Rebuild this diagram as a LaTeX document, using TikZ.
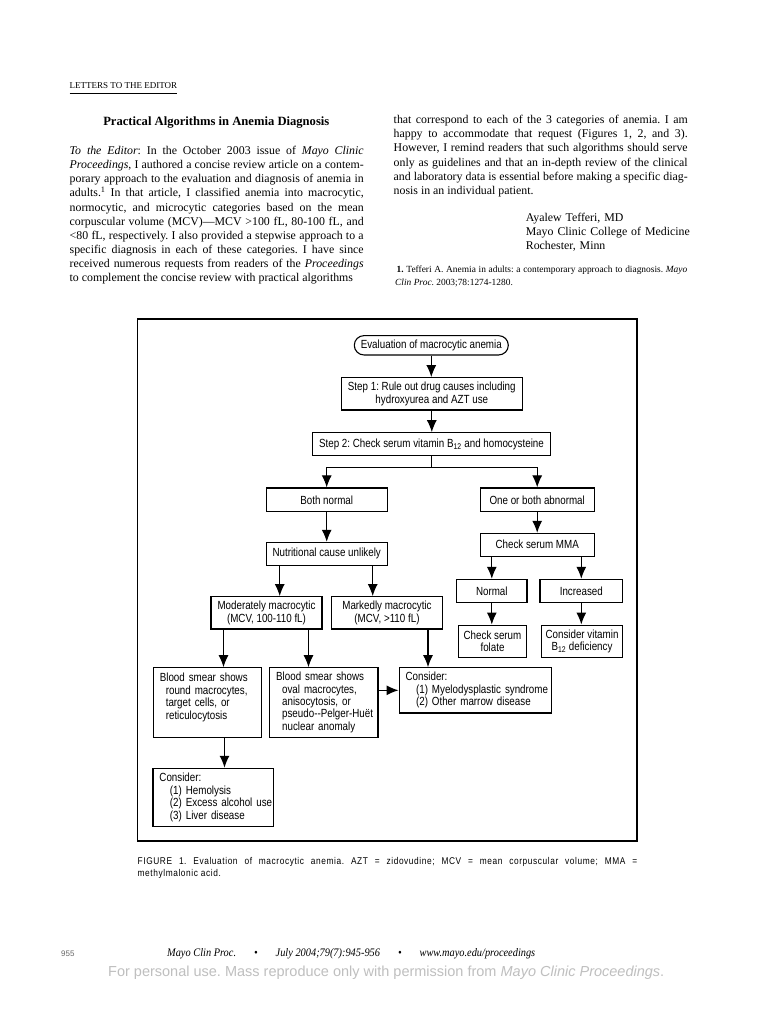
\documentclass[tikz,border=0pt]{standalone}
\usepackage{fontspec}
\setmainfont{Liberation Serif}
\newfontfamily\figfont[FakeStretch=0.83]{Liberation Sans}
\newfontfamily\capfont[FakeStretch=0.85,LetterSpace=6]{Liberation Sans}
\newfontfamily\wmfont{Liberation Sans}
\newfontfamily\jrnfont[FakeStretch=0.9]{Liberation Serif}
\usetikzlibrary{arrows.meta}
\newcommand{\bodysize}{\fontsize{11.85pt}{14.17pt}\selectfont}
\frenchspacing

\begin{document}
\begin{tikzpicture}[x=1pt,y=-1pt,
	box/.style={draw, line width=1.1pt, inner sep=0pt, align=center, font=\figfont\fontsize{11.8pt}{12.4pt}\selectfont},
	lbox/.style={box, align=left, inner xsep=6.5pt},
	arr/.style={line width=1.1pt, -{Latex[length=12pt,width=10pt]}},
	txt/.style={anchor=base west, inner sep=0pt}]

	\fill[white] (0,0) rectangle (768,1024);
	\useasboundingbox (0,0) rectangle (768,1024);

	% header and letter
	\node[txt, font=\fontsize{9pt}{10pt}\selectfont] (head) at (69.5,88.7) {LETTERS TO THE EDITOR};
	\draw[line width=0.9pt] ([yshift=-4.6pt]head.base west) -- ([yshift=-4.6pt]head.base east);
	\node[anchor=base, inner sep=0pt, font=\bfseries\fontsize{12.6pt}{14pt}\selectfont] (title) at (216.3,125.7) {Practical Algorithms in Anemia Diagnosis};

	\node[txt, text width=294pt, align=justify, font=\bodysize] (colL) at (69.5,154.4) {\parfillskip=0pt
	\textit{To the Editor}: In the October 2003 issue of \textit{Mayo Clinic}\linebreak
	\textit{Proceedings}, I authored a concise review article on a contem-\linebreak
	porary approach to the evaluation and diagnosis of anemia in\linebreak
	adults.\textsuperscript{1} In that article, I classified anemia into macrocytic,\linebreak
	normocytic, and microcytic categories based on the mean\linebreak
	corpuscular volume (MCV)---MCV >100 fL, 80-100 fL, and\linebreak
	<80 fL, respectively. I also provided a stepwise approach to a\linebreak
	specific diagnosis in each of these categories. I have since\linebreak
	received numerous requests from readers of the \textit{Proceedings}\linebreak
	to complement the concise review with practical algorithms};

	\node[txt, text width=294pt, align=justify, font=\bodysize] (colR) at (393.5,123.6) {
	that correspond to each of the 3 categories of anemia. I am\linebreak
	happy to accommodate that request (Figures 1, 2, and 3).\linebreak
	However, I remind readers that such algorithms should serve\linebreak
	only as guidelines and that an in-depth review of the clinical\linebreak
	and laboratory data is essential before making a specific diag-\linebreak
	nosis in an individual patient.};

	\node[txt, text width=180pt, align=left, font=\fontsize{11.85pt}{14pt}\selectfont] (sign) at (525.7,221.5) {Ayalew Tefferi, MD\\Mayo Clinic College of Medicine\\Rochester, Minn};

	\node[txt, text width=292pt, align=justify, font=\fontsize{9.4pt}{12.6pt}\selectfont] (note) at (395,272.5) {\hspace*{1.5pt}\textbf{1.}\ Tefferi A. Anemia in adults: a contemporary approach to diagnosis. \textit{Mayo}\linebreak
	\textit{Clin Proc}. 2003;78:1274-1280.};

	% flowchart
	\draw[line width=1.3pt] (137.5,319) rectangle (637,841);

	\node[box, minimum width=154pt, minimum height=19.3pt, rounded corners=9.6pt] (eval) at (431.3,345.3) {Evaluation of macrocytic anemia};
	\node[box, minimum width=181pt, minimum height=32.3pt] (step1) at (431.8,393.8) {Step 1: Rule out drug causes including\\hydroxyurea and AZT use};
	\node[box, minimum width=238.4pt, minimum height=23pt] (step2) at (431.5,444.2) {Step 2: Check serum vitamin B\textsubscript{12} and homocysteine};
	\node[box, minimum width=120.7pt, minimum height=23.7pt] (both) at (326.7,499.8) {Both normal};
	\node[box, minimum width=113.7pt, minimum height=23.7pt] (abn) at (537.2,499.8) {One or both abnormal};
	\node[box, minimum width=120.7pt, minimum height=23pt] (nutr) at (326.7,553.8) {Nutritional cause unlikely};
	\node[box, minimum width=113.7pt, minimum height=22.7pt] (mma) at (537.2,544.7) {Check serum MMA};
	\node[box, minimum width=111pt, minimum height=32.3pt] (moder) at (266.5,612.8) {Moderately macrocytic\\(MCV, 100-110 fL)};
	\node[box, minimum width=110.7pt, minimum height=32.3pt] (marked) at (387,612.8) {Markedly macrocytic\\(MCV, >110 fL)};
	\node[box, minimum width=70.3pt, minimum height=23.4pt] (norm) at (491.8,591) {Normal};
	\node[box, minimum width=82.7pt, minimum height=23.4pt] (incr) at (581.3,591) {Increased};
	\node[box, minimum width=68.4pt, minimum height=32.3pt] (folate) at (492.5,641.2) {Check serum\\folate};
	\node[box, minimum width=80.6pt, minimum height=32.3pt] (vitb) at (582,641.2) {Consider vitamin\\B\textsubscript{12} deficiency};
	\node[lbox, text width=95.4pt, minimum height=69.6pt] (smearA) at (207.5,702.5) {Blood smear shows\\\hspace*{6pt}round macrocytes,\\\hspace*{6pt}target cells, or\\\hspace*{6pt}reticulocytosis\\\mbox{}};
	\node[lbox, text width=95.3pt, minimum height=69.6pt] (smearB) at (323.8,702.5) {Blood smear shows\\\hspace*{6pt}oval macrocytes,\\\hspace*{6pt}anisocytosis, or\\\hspace*{6pt}\mbox{pseudo--Pelger-Huët}\\\hspace*{6pt}nuclear anomaly};
	\node[lbox, text width=139.3pt, minimum height=45.3pt] (marrow) at (475.2,690.3) {Consider:\\\hspace*{10.5pt}\mbox{(1) Myelodysplastic syndrome}\\\hspace*{10.5pt}(2) Other marrow disease};
	\node[lbox, text width=107.7pt, minimum height=58.4pt] (hemol) at (213.3,797.5) {Consider:\\\hspace*{10.5pt}(1) Hemolysis\\\hspace*{10.5pt}\mbox{(2) Excess alcohol use}\\\hspace*{10.5pt}(3) Liver disease};

	\draw[arr] (eval.south) -- (eval.south |- step1.north);
	\draw[arr] (step1.south) -- (step1.south |- step2.north);
	\draw[line width=1.1pt] (step2.south) -- ++(0,11) coordinate (fork);
	\draw[arr] (fork) -| (both);
	\draw[arr] (fork) -| (abn);
	\draw[arr] (both) -- (nutr);
	\draw[arr] (abn) -- (mma);
	\draw[arr] ([xshift=-47pt]nutr.south) -- ([xshift=-47pt]nutr.south |- moder.north);
	\draw[arr] ([xshift=46pt]nutr.south) -- ([xshift=46pt]nutr.south |- marked.north);
	\draw[arr] (mma.south -| norm) -- (norm);
	\draw[arr] (mma.south -| incr) -- (incr);
	\draw[arr] (norm.south) -- (norm.south |- folate.north);
	\draw[arr] (incr.south) -- (incr.south |- vitb.north);
	\draw[arr] ([xshift=-43pt]moder.south) -- ([xshift=-43pt]moder.south |- smearA.north);
	\draw[arr] ([xshift=42pt]moder.south) -- ([xshift=42pt]moder.south |- smearB.north);
	\draw[arr] ([xshift=41pt]marked.south) -- ([xshift=41pt]marked.south |- marrow.north);
	\draw[arr] (smearB.east |- marrow.west) -- (marrow.west);
	\draw[arr] ([xshift=17pt]smearA.south) -- ([xshift=17pt]smearA.south |- hemol.north);

	\node[txt, text width=499.5pt, align=justify, font=\capfont\fontsize{9.8pt}{11.5pt}\selectfont] (caption) at (137.5,864.5) {FIGURE 1. Evaluation of macrocytic anemia. AZT = zidovudine; MCV = mean corpuscular volume; MMA =\linebreak
	methylmalonic acid.};

	% footer
	\node[txt, font=\wmfont\fontsize{8pt}{9pt}\selectfont, text=black!60] (page) at (61,956) {955};
	\node[txt, font=\jrnfont\itshape\fontsize{11.5pt}{12pt}\selectfont] (journal) at (167,956) {Mayo Clin Proc.\hspace{18pt}•\hspace{18pt}July 2004;79(7):945-956\hspace{18pt}•\hspace{18pt}www.mayo.edu/proceedings};
	\node[txt, font=\wmfont\fontsize{14.5pt}{16pt}\selectfont, text=black!25] (mark) at (108,976.5) {For personal use. Mass reproduce only with permission from \textit{Mayo Clinic Proceedings}.};
\end{tikzpicture}
\end{document}
